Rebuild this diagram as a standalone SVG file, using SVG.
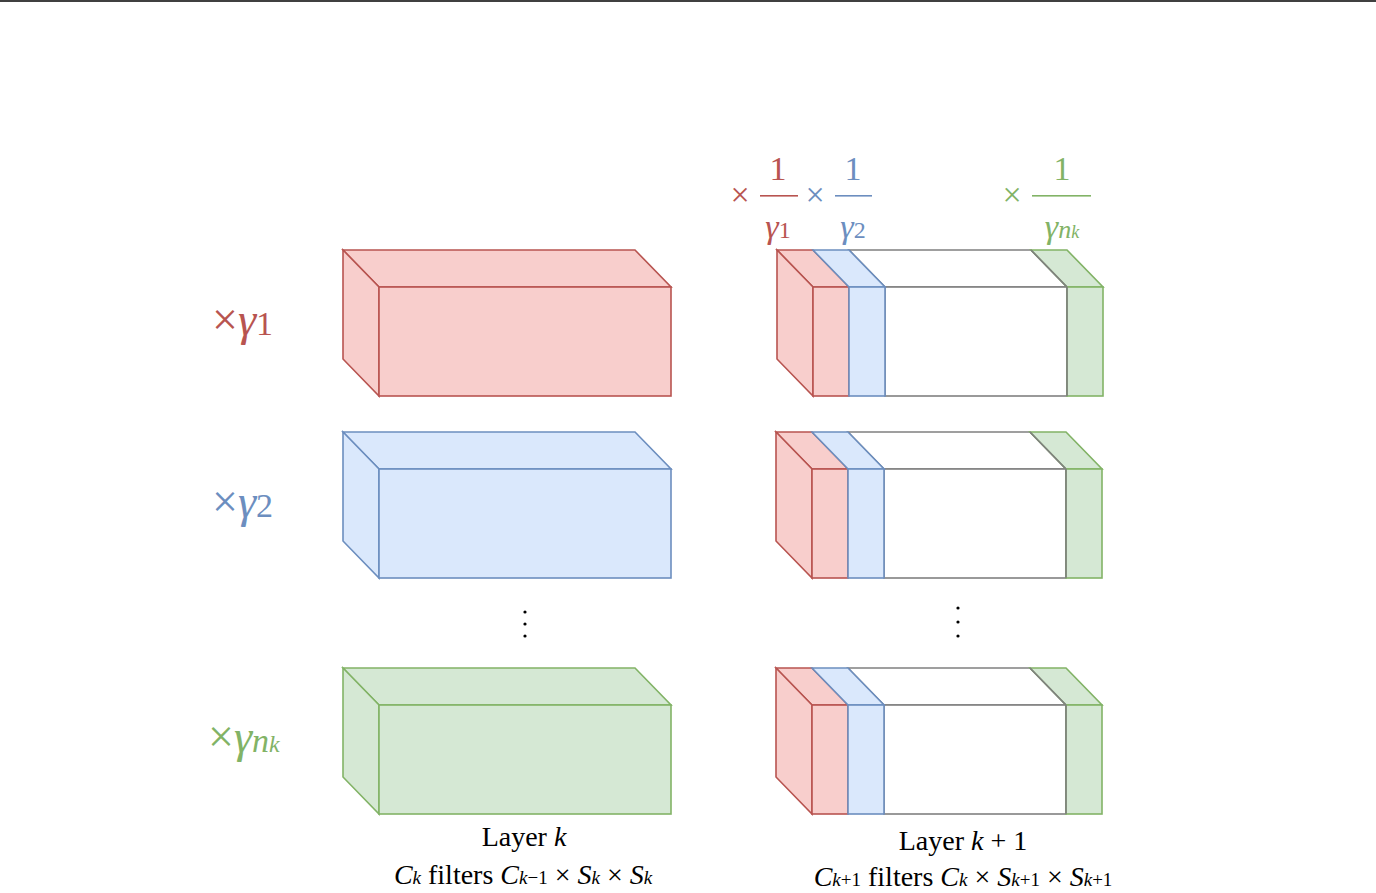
<svg xmlns="http://www.w3.org/2000/svg" width="1376" height="893" viewBox="0 0 1376 893">
<defs><style>
text{font-family:"Liberation Serif","DejaVu Serif",serif}
.r{fill:#f8cecc;stroke:#b85450;stroke-width:1.6}
.b{fill:#dae8fc;stroke:#6c8ebf;stroke-width:1.6}
.g{fill:#d5e8d4;stroke:#82b366;stroke-width:1.6}
.w{fill:#fff;stroke:#808080;stroke-width:1.6}
.i{font-style:italic}
</style>
<g id="big"><polygon points="0,0 292,0 328,37 36,37"/><polygon points="0,0 36,37 36,146 0,109"/><rect x="36" y="37" width="292" height="109"/></g>
<g id="slab">
<polygon class="w" points="72,0 254,0 290,37 108,37"/><rect class="w" x="108" y="37" width="182" height="109"/>
<polygon class="r" points="0,0 36,0 72,37 36,37"/><polygon class="r" points="0,0 36,37 36,146 0,109"/><rect class="r" x="36" y="37" width="36" height="109"/>
<polygon class="b" points="36,0 72,0 108,37 72,37"/><rect class="b" x="72" y="37" width="36" height="109"/>
<polygon class="g" points="254,0 290,0 326,37 290,37"/><rect class="g" x="290" y="37" width="36" height="109"/>
<line x1="254" y1="0" x2="290" y2="37" stroke="#808080" stroke-width="1.6"/><line x1="290" y1="37" x2="290" y2="146" stroke="#808080" stroke-width="1.6"/>
</g>
</defs>
<line x1="0" y1="1" x2="1376" y2="1" stroke="#000" stroke-width="1.5"/>
<g id="box1" class="r"><use href="#big" x="343" y="250"/></g>
<g id="box2" class="b"><use href="#big" x="343" y="432"/></g>
<g id="box3" class="g"><use href="#big" x="343" y="668"/></g>
<g id="slab1"><use href="#slab" x="777" y="250"/></g>
<g id="slab2"><use href="#slab" x="776" y="432"/></g>
<g id="slab3"><use href="#slab" x="776" y="668"/></g>
<g id="connectors"></g>
<g id="labels" font-size="46">
<text x="212" y="335" fill="#b85450">×<tspan class="i">γ</tspan><tspan font-size="34">1</tspan></text>
<text x="212" y="517" fill="#6c8ebf">×<tspan class="i">γ</tspan><tspan font-size="34">2</tspan></text>
<text x="208" y="752" fill="#82b366">×<tspan class="i">γ</tspan><tspan class="i" font-size="34">n</tspan><tspan class="i" font-size="24">k</tspan></text>
</g>
<g id="dots" fill="#000"><circle cx="525" cy="612" r="1.6"/><circle cx="525" cy="624" r="1.6"/><circle cx="525" cy="636" r="1.6"/><circle cx="958" cy="608" r="1.6"/><circle cx="958" cy="622" r="1.6"/><circle cx="958" cy="636" r="1.6"/></g>
<g id="fracs" font-size="34" text-anchor="middle">
<g fill="#b85450"><text x="740" y="206">×</text><text x="778" y="180">1</text><rect x="760" y="195" width="38" height="1.6"/><text x="778" y="238" class="i">γ<tspan font-size="24" font-style="normal">1</tspan></text></g>
<g fill="#6c8ebf"><text x="815" y="206">×</text><text x="853" y="180">1</text><rect x="835" y="195" width="37" height="1.6"/><text x="853" y="238" class="i">γ<tspan font-size="24" font-style="normal">2</tspan></text></g>
<g fill="#82b366"><text x="1012" y="206">×</text><text x="1062" y="180">1</text><rect x="1032" y="195" width="59" height="1.6"/><text x="1062" y="238" class="i">γ<tspan font-size="26">n</tspan><tspan font-size="18">k</tspan></text></g>
</g>
<g id="captions" font-size="28" text-anchor="middle" fill="#000">
<text x="524" y="846">Layer <tspan class="i">k</tspan></text>
<text x="523" y="884"><tspan class="i">C</tspan><tspan class="i" font-size="19">k</tspan> filters <tspan class="i">C</tspan><tspan class="i" font-size="19">k</tspan><tspan font-size="19">−1</tspan> × <tspan class="i">S</tspan><tspan class="i" font-size="19">k</tspan> × <tspan class="i">S</tspan><tspan class="i" font-size="19">k</tspan></text>
<text x="963" y="850">Layer <tspan class="i">k</tspan> + 1</text>
<text x="963" y="886"><tspan class="i">C</tspan><tspan class="i" font-size="19">k</tspan><tspan font-size="19">+1</tspan> filters <tspan class="i">C</tspan><tspan class="i" font-size="19">k</tspan> × <tspan class="i">S</tspan><tspan class="i" font-size="19">k</tspan><tspan font-size="19">+1</tspan> × <tspan class="i">S</tspan><tspan class="i" font-size="19">k</tspan><tspan font-size="19">+1</tspan></text>
</g>
</svg>
